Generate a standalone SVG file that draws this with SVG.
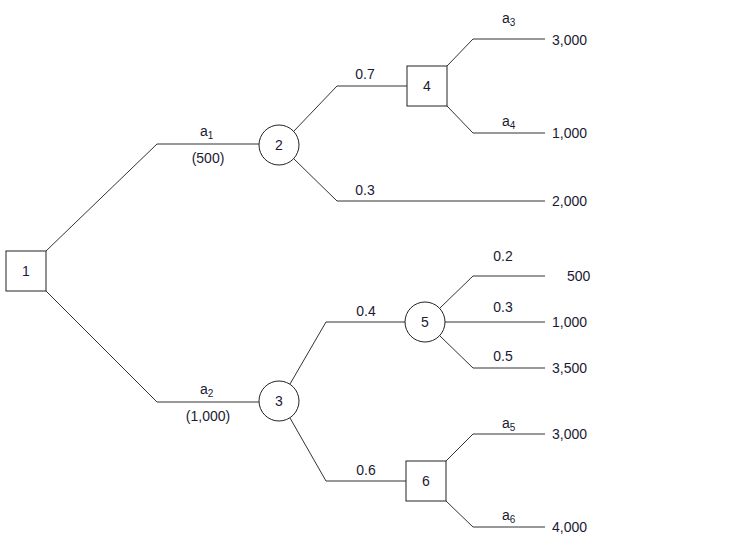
<svg xmlns="http://www.w3.org/2000/svg" width="755" height="543" viewBox="0 0 755 543">
<style>
.n{fill:#fff;stroke:#222;stroke-width:1}
.c path{fill:none;stroke:#333;stroke-width:1}
text{font-family:"Liberation Sans",Arial,sans-serif;font-size:14px;fill:#1a1a33}
.m{text-anchor:middle}
.s{font-size:10px}
</style>
<rect width="755" height="543" fill="#fff"/>
<g class="c" id="connectors">
<path d="M46,251 L157,144 L259,144"/>
<path d="M46,291 L157,402 L259,402"/>
<path d="M294,131 L337,86 L407,86"/>
<path d="M294,159 L337,201 L545,201"/>
<path d="M447,66 L473,39 L545,39"/>
<path d="M447,106 L473,133 L545,133"/>
<path d="M290,384 L326,322 L405,322"/>
<path d="M290,418 L326,481 L406,481"/>
<path d="M440,308 L473,276 L545,276"/>
<path d="M445,322 L545,322"/>
<path d="M440,336 L473,368 L545,368"/>
<path d="M446,461 L473,434 L545,434"/>
<path d="M446,501 L473,527 L545,527"/>
</g>
<g id="node1"><rect class="n" x="6" y="251" width="40" height="40"/><text class="m" x="26" y="276">1</text></g>
<g id="node2"><circle class="n" cx="279" cy="145" r="20"/><text class="m" x="279" y="150">2</text></g>
<g id="node3"><circle class="n" cx="279" cy="401" r="20"/><text class="m" x="279" y="406">3</text></g>
<g id="node4"><rect class="n" x="407" y="66" width="40" height="40"/><text class="m" x="427" y="91">4</text></g>
<g id="node5"><circle class="n" cx="425" cy="322" r="20"/><text class="m" x="425" y="327">5</text></g>
<g id="node6"><rect class="n" x="406" y="461" width="40" height="40"/><text class="m" x="426" y="486">6</text></g>
<g id="labels">
<text x="200" y="136">a<tspan class="s" dy="3">1</tspan></text>
<text class="m" x="208" y="163">(500)</text>
<text x="200" y="394">a<tspan class="s" dy="3">2</tspan></text>
<text class="m" x="208" y="421">(1,000)</text>
<text class="m" x="365" y="79">0.7</text>
<text class="m" x="365" y="195">0.3</text>
<text class="m" x="366" y="316">0.4</text>
<text class="m" x="366" y="475">0.6</text>
<text x="502" y="23">a<tspan class="s" dy="3">3</tspan></text>
<text x="502" y="126">a<tspan class="s" dy="3">4</tspan></text>
<text x="502" y="428">a<tspan class="s" dy="3">5</tspan></text>
<text x="502" y="520">a<tspan class="s" dy="3">6</tspan></text>
<text class="m" x="503" y="261">0.2</text>
<text class="m" x="503" y="312">0.3</text>
<text class="m" x="503" y="361">0.5</text>
<text x="552" y="45">3,000</text>
<text x="552" y="138">1,000</text>
<text x="552" y="206">2,000</text>
<text x="567" y="281">500</text>
<text x="552" y="327">1,000</text>
<text x="552" y="373">3,500</text>
<text x="552" y="439">3,000</text>
<text x="552" y="532">4,000</text>
</g>
</svg>
